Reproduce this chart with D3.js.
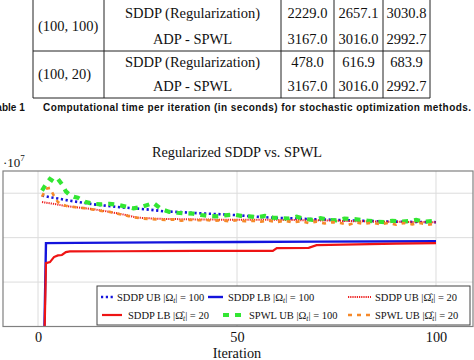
<!DOCTYPE html>
<html><head><meta charset="utf-8">
<script src="https://cdn.jsdelivr.net/npm/d3@7"></script>
<style>body{margin:0;background:#fff}svg{display:block}</style>
</head><body>
<script>
// ---------- data ----------
const tableGroups = ["(100, 100)", "(100, 20)"];
const tableMethods = ["SDDP (Regularization)", "ADP - SPWL", "SDDP (Regularization)", "ADP - SPWL"];
const tableValues = [
  ["2229.0", "2657.1", "3030.8"],
  ["3167.0", "3016.0", "2992.7"],
  ["478.0", "616.9", "683.9"],
  ["3167.0", "3016.0", "2992.7"]
];
const captionLabel = "Table 1";
const captionText = "Computational time per iteration (in seconds) for stochastic optimization methods.";

const chartTitle = "Regularized SDDP vs. SPWL";
const xLabel = "Iteration";
const xTicks = [0, 50, 100];
const yTicks = [1.5, 2.0, 2.5, 3.0]; // x 10^7

const sddpUB100 = [[1,2.975],[3,2.955],[5,2.94],[8,2.915],[11,2.895],[14,2.875],[17,2.86],[20,2.845],[24,2.83],[28,2.815],[32,2.795],[36,2.787],[40,2.775],[45,2.765],[50,2.753],[55,2.735],[60,2.722],[65,2.715],[70,2.706],[75,2.70],[80,2.692],[85,2.685],[90,2.68],[95,2.676],[100,2.674]];
const sddpLB100 = [[1,0.0],[2,2.438],[10,2.441],[30,2.447],[50,2.451],[70,2.455],[100,2.46]];
const sddpUB20 = [[1,2.90],[4,2.88],[7,2.855],[10,2.84],[14,2.82],[18,2.79],[22,2.755],[25,2.725],[30,2.712],[40,2.705],[50,2.70],[60,2.70],[70,2.695],[80,2.685],[90,2.678],[100,2.674]];
const sddpLB20 = [[1,0.0],[2,2.213],[3,2.225],[4,2.281],[5,2.30],[6,2.305],[7,2.337],[8,2.345],[20,2.347],[40,2.35],[59,2.352],[60,2.382],[68,2.385],[70,2.415],[80,2.425],[90,2.432],[100,2.438]];
const spwlUB100 = [[1,3.03],[2,3.10],[3,3.16],[4,3.13],[5,3.16],[6,3.10],[7,3.02],[8,2.98],[9,2.96],[10,2.95],[12,2.90],[14,2.88],[16,2.875],[18,2.88],[20,2.87],[22,2.85],[24,2.83],[26,2.845],[28,2.875],[29,2.89],[31,2.82],[33,2.79],[35,2.78],[37,2.775],[39,2.77],[41,2.755],[43,2.745],[45,2.74],[47,2.75],[49,2.76],[51,2.745],[53,2.74],[55,2.73],[57,2.745],[59,2.725],[61,2.72],[63,2.715],[65,2.735],[67,2.71],[69,2.70],[71,2.72],[73,2.70],[75,2.695],[77,2.715],[79,2.71],[81,2.70],[83,2.69],[85,2.68],[87,2.675],[89,2.69],[91,2.68],[93,2.685],[95,2.70],[97,2.68],[99,2.685],[100,2.68]];
const spwlUB20 = [[1,2.96],[2,3.05],[3,3.06],[4,2.97],[5,2.90],[6,2.875],[7,2.86],[8,2.85],[10,2.84],[12,2.83],[14,2.815],[16,2.80],[18,2.79],[20,2.77],[22,2.75],[24,2.73],[26,2.715],[28,2.71],[30,2.705],[32,2.70],[34,2.705],[36,2.69],[38,2.70],[40,2.695],[42,2.70],[44,2.69],[46,2.695],[48,2.685],[50,2.695],[52,2.685],[54,2.69],[56,2.68],[58,2.69],[60,2.675],[62,2.69],[64,2.67],[66,2.685],[68,2.665],[70,2.68],[72,2.66],[74,2.675],[76,2.665],[78,2.645],[80,2.67],[82,2.655],[84,2.67],[86,2.65],[88,2.665],[90,2.645],[92,2.665],[94,2.65],[96,2.665],[98,2.645],[100,2.66]];

const seriesNames = ["SDDP UB", "SDDP LB", "SDDP UB", "SDDP LB", "SPWL UB", "SPWL UB"];
const seriesOmega = ["100", "100", "20", "20", "100", "20"];

// ---------- drawing ----------
const W = 474, H = 360;
const svg = d3.select("body").append("svg").attr("width", W).attr("height", H);
const serif = "'Liberation Serif','Times New Roman',serif";

// table
const colX = [33, 104, 281, 334, 383, 430];
const tg = svg.append("g").attr("font-family", serif).attr("font-size", "14.5px").attr("fill", "#111");
const lineC = "#222";
colX.forEach(x => tg.append("line").attr("x1", x).attr("x2", x).attr("y1", -2).attr("y2", 98).attr("stroke", lineC).attr("stroke-width", 1));
[-1, 51, 98].forEach(y => tg.append("line").attr("x1", 33).attr("x2", 430).attr("y1", y).attr("y2", y).attr("stroke", lineC).attr("stroke-width", 1));
const rowBase = [18, 44, 67, 91];
tableGroups.forEach((g, i) => tg.append("text").attr("x", 38).attr("y", i === 0 ? 30.5 : 79).text(g));
tableMethods.forEach((m, i) => tg.append("text").attr("x", (colX[1] + colX[2]) / 2).attr("y", rowBase[i]).attr("text-anchor", "middle").text(m));
tableValues.forEach((row, i) => row.forEach((v, j) => tg.append("text").attr("x", (colX[2 + j] + colX[3 + j]) / 2).attr("y", rowBase[i]).attr("text-anchor", "middle").text(v)));

// caption
const cg = svg.append("g").attr("font-family", "'Liberation Sans',Arial,sans-serif").attr("font-weight", "bold").attr("font-size", "10px").attr("fill", "#111");
cg.append("text").attr("x", -9).attr("y", 110.5).text(captionLabel);
cg.append("text").attr("x", 43).attr("y", 110.5).attr("textLength", 428).text(captionText);

// chart
const pL = 3, pR = 473, pT = 171, pB = 326.5;
const x = d3.scaleLinear().domain([-8.8, 109.3]).range([pL, pR]);
const y = d3.scaleLinear().domain([1.5, 3.25]).range([pB, pT]);

svg.append("text").attr("x", 237).attr("y", 157).attr("text-anchor", "middle")
  .attr("font-family", serif).attr("font-size", "14.3px").attr("fill", "#111").text(chartTitle);

const exp = svg.append("text").attr("x", 3).attr("y", 167).attr("font-family", serif).attr("font-size", "13px").attr("fill", "#111");
exp.append("tspan").text("·10");
exp.append("tspan").attr("dy", -6).attr("font-size", "9px").text("7");

// grid
const grid = svg.append("g");
grid.selectAll("line.gx").data(xTicks).join("line").attr("x1", d => x(d)).attr("x2", d => x(d))
  .attr("y1", pT).attr("y2", pB).attr("stroke", "#dcdcdc").attr("stroke-width", 1);
grid.selectAll("line.gy").data(yTicks).join("line").attr("x1", pL).attr("x2", pR)
  .attr("y1", d => y(d)).attr("y2", d => y(d)).attr("stroke", "#dcdcdc").attr("stroke-width", 1);

// x axis labels
const xa = svg.append("g").attr("transform", `translate(0,${pB})`)
  .call(d3.axisBottom(x).tickValues(xTicks).tickSize(0).tickPadding(5.5).tickFormat(d3.format("d")));
xa.select(".domain").remove();
xa.selectAll("text").attr("font-family", serif).attr("font-size", "14.3px").attr("fill", "#111");

svg.append("text").attr("x", 237).attr("y", 358).attr("text-anchor", "middle")
  .attr("font-family", serif).attr("font-size", "14.3px").attr("fill", "#111").text(xLabel);

// clip
svg.append("clipPath").attr("id", "clip").append("rect").attr("x", pL).attr("y", pT).attr("width", pR - pL).attr("height", pB - pT);

const styles = [
  {data: sddpUB100, color: "#1414dc", w: 2.6, dash: "2.2,2.6"},
  {data: sddpLB100, color: "#1414dc", w: 2.4, dash: null},
  {data: sddpUB20, color: "#ee2020", w: 2.0, dash: "1.2,1"},
  {data: sddpLB20, color: "#ee1414", w: 2.2, dash: null},
  {data: spwlUB100, color: "#33e633", w: 4.2, dash: "6,6"},
  {data: spwlUB20, color: "#f5892a", w: 2.6, dash: "4,5"}
];
const line = d3.line().x(d => x(d[0])).y(d => y(d[1]));
const lg = svg.append("g").attr("clip-path", "url(#clip)");
styles.forEach(s => lg.append("path").attr("d", line(s.data)).attr("fill", "none")
  .attr("stroke", s.color).attr("stroke-width", s.w).attr("stroke-dasharray", s.dash));

// frame
svg.append("rect").attr("x", pL).attr("y", pT).attr("width", pR - pL).attr("height", pB - pT)
  .attr("fill", "none").attr("stroke", "#808080").attr("stroke-width", 1.2);

// legend
const leg = svg.append("g");
leg.append("rect").attr("x", 97).attr("y", 286).attr("width", 373).attr("height", 39)
  .attr("fill", "#fff").attr("stroke", "#444").attr("stroke-width", 1);
const legPos = [
  {x1: 101, x2: 113, tx: 117, ty: 297},
  {x1: 208, x2: 223, tx: 228, ty: 297},
  {x1: 348, x2: 371, tx: 375, ty: 297},
  {x1: 102, x2: 122, tx: 128, ty: 315},
  {x1: 223, x2: 247, tx: 249, ty: 315},
  {x1: 348, x2: 373, tx: 375, ty: 315}
];
styles.forEach((s, i) => {
  const p = legPos[i];
  leg.append("line").attr("x1", p.x1).attr("x2", p.x2).attr("y1", p.ty).attr("y2", p.ty)
    .attr("stroke", s.color).attr("stroke-width", s.w).attr("stroke-dasharray", s.dash);
  const t = leg.append("text").attr("x", p.tx).attr("y", p.ty + 3.8).attr("font-family", serif)
    .attr("font-size", "10.5px").attr("fill", "#111");
  const hat = seriesOmega[i] === "20";
  t.append("tspan").text(seriesNames[i] + " |" + (hat ? "Ω\u0302" : "Ω"));
  t.append("tspan").attr("font-style", "italic").attr("font-size", "7.5px").attr("dy", 2).text("t");
  t.append("tspan").attr("dy", -2).text("| = " + seriesOmega[i]);
});
</script>
</body></html>
